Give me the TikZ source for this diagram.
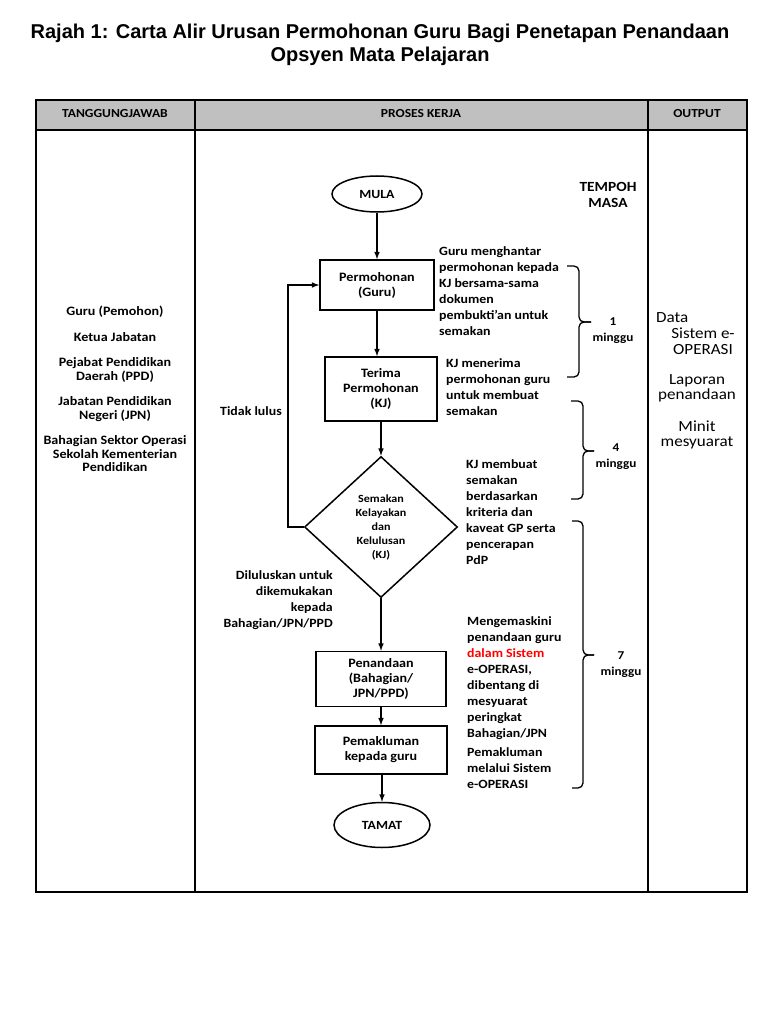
\documentclass[tikz,border=0pt]{standalone}
\usepackage{fontspec}
\setmainfont{Carlito}[FakeStretch=1.1]
\newfontfamily\titlefont{Liberation Sans}
\usetikzlibrary{arrows,positioning,shapes.geometric}
\definecolor{headgray}{RGB}{192,192,192}

\tikzset{
  box/.style={draw,rectangle,align=center,inner sep=0pt,line width=1.5pt,font=\bfseries\fontsize{12.8}{15}\selectfont},
  terminal/.style={draw,ellipse,inner sep=0pt,line width=1.5pt,font=\bfseries\fontsize{12.5}{15}\selectfont},
  decision/.style={draw,diamond,inner sep=0pt,line width=1.5pt,align=center,font=\bfseries\fontsize{11}{14}\selectfont},
  note/.style={align=left,anchor=west,inner sep=0pt,font=\bfseries\fontsize{12.6}{16}\selectfont},
  head/.style={inner sep=0pt,font=\bfseries\fontsize{12.3}{13}\selectfont},
  outtext/.style={align=center,inner sep=0pt,font=\fontsize{15.5}{15.5}\selectfont},
  tbrace/.style={rounded corners=5pt,line width=1.3pt},
  flow/.style={->,line width=1.5pt}
}

\begin{document}
\begin{tikzpicture}[x=1pt,y=-1pt,>=latex]

  \useasboundingbox (0,0) rectangle (768,1024);

  % title
  \node[font=\titlefont\bfseries\fontsize{20}{23}\selectfont,align=center] (title) at (380,45)
    {Rajah 1: Carta Alir Urusan Permohonan Guru Bagi Penetapan Penandaan\\Opsyen Mata Pelajaran};

  % table
  \filldraw[fill=headgray,line width=1.2pt] (36,100) rectangle (747,130);
  \draw[line width=1.2pt] (36,100) rectangle (747,892);
  \draw[line width=1.2pt] (195,100) -- (195,892);
  \draw[line width=1.2pt] (648,100) -- (648,892);

  \node[head] (hjawab) at (115,114) {TANGGUNGJAWAB};
  \node[head] (hproses) at (421,114) {PROSES KERJA};
  \node[head] (houtput) at (697,114) {OUTPUT};

  % tanggungjawab
  \node[align=center,inner sep=0pt,font=\bfseries\fontsize{12.8}{13.5}\selectfont] (jawab) at (115,389)
    {Guru (Pemohon)\\[12pt]Ketua Jabatan\\[12pt]Pejabat Pendidikan\\Daerah (PPD)\\[12pt]Jabatan Pendidikan\\Negeri (JPN)\\[12pt]Bahagian Sektor Operasi\\Sekolah Kementerian\\Pendidikan};

  % proses kerja
  \node[terminal,minimum width=90pt,minimum height=36pt] (mula) at (377,194) {MULA};
  \node[box,minimum width=114pt,minimum height=50pt] (permohonan) [below of=mula,node distance=91pt] {Permohonan\\(Guru)};
  \node[box,minimum width=112pt,minimum height=64pt] (terima) [below of=permohonan,node distance=104pt,xshift=4pt] {Terima\\Permohonan\\(KJ)};
  \node[decision,minimum width=153pt,minimum height=141pt] (semakan) [below of=terima,node distance=138pt] {Semakan\\Kelayakan\\dan\\Kelulusan\\(KJ)};
  \node[box,minimum width=130pt,minimum height=55pt] (penandaan) [below of=semakan,node distance=152pt] {Penandaan\\(Bahagian/\\JPN/PPD)};
  \node[box,minimum width=132pt,minimum height=48pt] (pemakluman) [below of=penandaan,node distance=71pt] {Pemakluman\\kepada guru};
  \node[terminal,minimum width=96pt,minimum height=45pt] (tamat) [below of=pemakluman,node distance=75pt,xshift=1pt] {TAMAT};

  \draw[flow] (mula) -- (permohonan);
  \draw[flow] (permohonan.south) -- (permohonan.south |- terima.north);
  \draw[flow] (terima) -- (semakan);
  \draw[flow] (semakan) -- (penandaan);
  \draw[flow] (penandaan) -- (pemakluman);
  \draw[flow] (pemakluman) -- (pemakluman.south -| tamat.north) -- (tamat);
  \draw[flow] (semakan.west) -- ++(-16,0) |- (permohonan.west);

  \node[note] (tidak) at (220,411) {Tidak lulus};
  \node[note,anchor=east,align=right] (lulus) at (333,600)
    {Diluluskan untuk\\dikemukakan\\kepada\\Bahagian/JPN/PPD};

  \node[note] (hantar) at (439,291)
    {Guru menghantar\\permohonan kepada\\KJ bersama-sama\\dokumen\\pembukti'an untuk\\semakan};
  \node[note] (menerima) at (446,387.5)
    {KJ menerima\\permohonan guru\\untuk membuat\\semakan};
  \node[note] (membuat) at (466,512)
    {KJ membuat\\semakan\\berdasarkan\\kriteria dan\\kaveat GP serta\\pencerapan\\PdP};
  \node[note] (kemaskini) at (467,678)
    {Mengemaskini\\penandaan guru\\\textcolor{red}{dalam Sistem}\\e-OPERASI,\\dibentang di\\mesyuarat\\peringkat\\Bahagian/JPN};
  \node[note] (maklum) at (467,768)
    {Pemakluman\\melalui Sistem\\e-OPERASI};

  % tempoh masa
  \node[note,anchor=center,align=center,font=\bfseries\fontsize{14}{16}\selectfont] (tempoh) at (608,195) {TEMPOH\\MASA};
  \draw[tbrace] (567,266) -- (579,266) -- (579,322) -- (591,322);
  \draw[tbrace] (591,322) -- (579,322) -- (579,377) -- (567,377);
  \draw[tbrace] (571,401) -- (583,401) -- (583,451) -- (594,451);
  \draw[tbrace] (594,451) -- (583,451) -- (583,499) -- (571,499);
  \draw[tbrace] (572,521) -- (583,521) -- (583,655) -- (594,655);
  \draw[tbrace] (594,655) -- (583,655) -- (583,788) -- (572,788);
  \node[note,anchor=center,align=center,font=\bfseries\fontsize{12}{16}\selectfont] (satu) at (613,331) {1\\minggu};
  \node[note,anchor=center,align=center,font=\bfseries\fontsize{12}{16}\selectfont] (empat) at (616,457) {4\\minggu};
  \node[note,anchor=center,align=center,font=\bfseries\fontsize{12}{16}\selectfont] (tujuh) at (621,665) {7\\minggu};

  % output
  \node[outtext,anchor=west] (data) at (656,318) {Data};
  \node[outtext] (sistem) at (703,341) {Sistem e-\\OPERASI};
  \node[outtext] (laporan) at (697,388.5) {Laporan\\penandaan};
  \node[outtext] (minit) at (697,435) {Minit\\mesyuarat};

\end{tikzpicture}
\end{document}
